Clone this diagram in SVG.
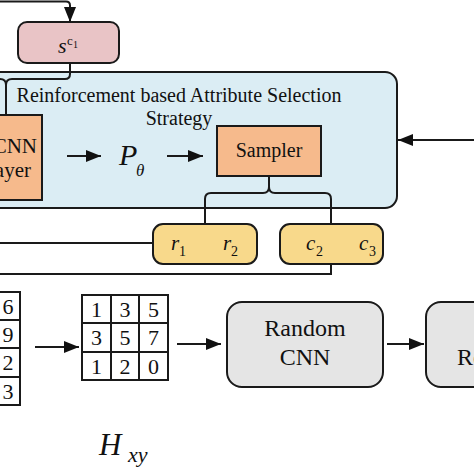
<svg xmlns="http://www.w3.org/2000/svg" width="474" height="474" viewBox="0 0 474 474">
<style>
.t{font-family:"Liberation Serif","Times New Roman",serif;fill:#111}
.i{font-style:italic}
.box{stroke:#1a1a1a;stroke-width:2}
.ln{fill:none;stroke:#1a1a1a;stroke-width:2}
.cell{fill:#fff;stroke:#1a1a1a;stroke-width:2}
</style>
<defs>
<marker id="ah" markerUnits="userSpaceOnUse" markerWidth="15" markerHeight="12" refX="15" refY="6" orient="auto"><path d="M0,0 L15,6 L0,12 z" fill="#111"/></marker>
</defs>
<rect width="474" height="474" fill="#fff"/>

<g id="strategy">
<rect class="box" x="-20" y="72" width="417" height="136" rx="12" fill="#dbedf4"/>
<text class="t" x="179" y="102" font-size="20" text-anchor="middle">Reinforcement based Attribute Selection</text>
<text class="t" x="179" y="125" font-size="20" text-anchor="middle">Strategy</text>
</g>

<g id="s-c1">
<rect class="box" x="18" y="22" width="101" height="41" rx="9" fill="#e9c4c6"/>
<text class="t i" x="58" y="53" font-size="22">s</text>
<text class="t" x="67" y="45" font-size="13">c</text>
<text class="t" x="73" y="48" font-size="10">1</text>
</g>

<g id="cnn-layer">
<rect class="box" x="-25" y="115" width="67" height="85" fill="#f6ba8c"/>
<text class="t" x="37" y="153" font-size="21" text-anchor="end">CNN</text>
<text class="t" x="31" y="177" font-size="21" text-anchor="end">Layer</text>
</g>

<g id="p-theta">
<text class="t i" x="119" y="165" font-size="30">P</text>
<text class="t i" x="136" y="176" font-size="17">θ</text>
</g>

<g id="sampler">
<rect class="box" x="217" y="126" width="104" height="50" fill="#f6ba8c"/>
<text class="t" x="269" y="157" font-size="20" text-anchor="middle">Sampler</text>
</g>

<g id="r-box">
<rect class="box" x="153" y="224" width="104" height="40" rx="10" fill="#f8d98b"/>
<text class="t i" x="171" y="250" font-size="21">r</text>
<text class="t" x="179" y="256" font-size="14">1</text>
<text class="t i" x="223" y="250" font-size="21">r</text>
<text class="t" x="231" y="256" font-size="14">2</text>
</g>

<g id="c-box">
<rect class="box" x="280" y="224" width="103" height="40" rx="10" fill="#f8d98b"/>
<text class="t i" x="306" y="250" font-size="21">c</text>
<text class="t" x="316" y="256" font-size="14">2</text>
<text class="t i" x="359" y="250" font-size="21">c</text>
<text class="t" x="369" y="256" font-size="14">3</text>
</g>

<g id="input-matrix">
<rect class="cell" x="-9" y="292" width="29" height="28"/>
<rect class="cell" x="-9" y="320" width="29" height="28"/>
<rect class="cell" x="-9" y="348" width="29" height="29"/>
<rect class="cell" x="-9" y="377" width="29" height="28"/>
<g class="t" font-size="22" text-anchor="middle">
<text x="8" y="314">6</text>
<text x="8" y="342">9</text>
<text x="8" y="370">2</text>
<text x="8" y="399">3</text>
</g>
</g>

<g id="hxy-matrix">
<rect class="cell" x="82" y="295" width="86" height="85"/>
<path class="ln" d="M111,295 V380 M139,295 V380 M82,323 H168 M82,352 H168"/>
<g class="t" font-size="22" text-anchor="middle">
<text x="96.5" y="317">1</text><text x="125" y="317">3</text><text x="153.5" y="317">5</text>
<text x="96.5" y="345">3</text><text x="125" y="345">5</text><text x="153.5" y="345">7</text>
<text x="96.5" y="374">1</text><text x="125" y="374">2</text><text x="153.5" y="374">0</text>
</g>
</g>

<g id="hxy-label">
<text class="t i" x="99" y="455" font-size="31">H</text>
<text class="t i" x="128" y="462" font-size="22">xy</text>
</g>

<g id="random-cnn">
<rect class="box" x="227" y="302" width="156" height="85" rx="15" fill="#e5e5e5"/>
<text class="t" x="305" y="336" font-size="24" text-anchor="middle">Random</text>
<text class="t" x="305" y="365" font-size="24" text-anchor="middle">CNN</text>
</g>

<g id="next-box">
<rect class="box" x="426" y="302" width="80" height="85" rx="15" fill="#e5e5e5"/>
<text class="t" x="457" y="365" font-size="24">Re</text>
</g>

<g id="connectors">
<path class="ln" d="M0,1.5 H66 Q70,1.5 70,5.5 V22" marker-end="url(#ah)"/>
<path class="ln" d="M70,63 V74 Q70,79 65,79 H12 Q6,79 6,85 V115"/>
<path class="ln" d="M0,79 Q6,79 6,85"/>
<path class="ln" d="M67,156 H101" marker-end="url(#ah)"/>
<path class="ln" d="M167,156 H203" marker-end="url(#ah)"/>
<path class="ln" d="M269,176 V187 Q269,193 263,193 H211 Q205,193 205,199 V224"/>
<path class="ln" d="M269,187 Q269,193 275,193 H325 Q331,193 331,199 V224"/>
<path class="ln" d="M0,243 H153"/>
<path class="ln" d="M331,264 V274 H0"/>
<path class="ln" d="M474,140 H398" marker-end="url(#ah)"/>
<path class="ln" d="M35,347 H79" marker-end="url(#ah)"/>
<path class="ln" d="M177,344 H221" marker-end="url(#ah)"/>
<path class="ln" d="M387,344 H424" marker-end="url(#ah)"/>
</g>
</svg>
